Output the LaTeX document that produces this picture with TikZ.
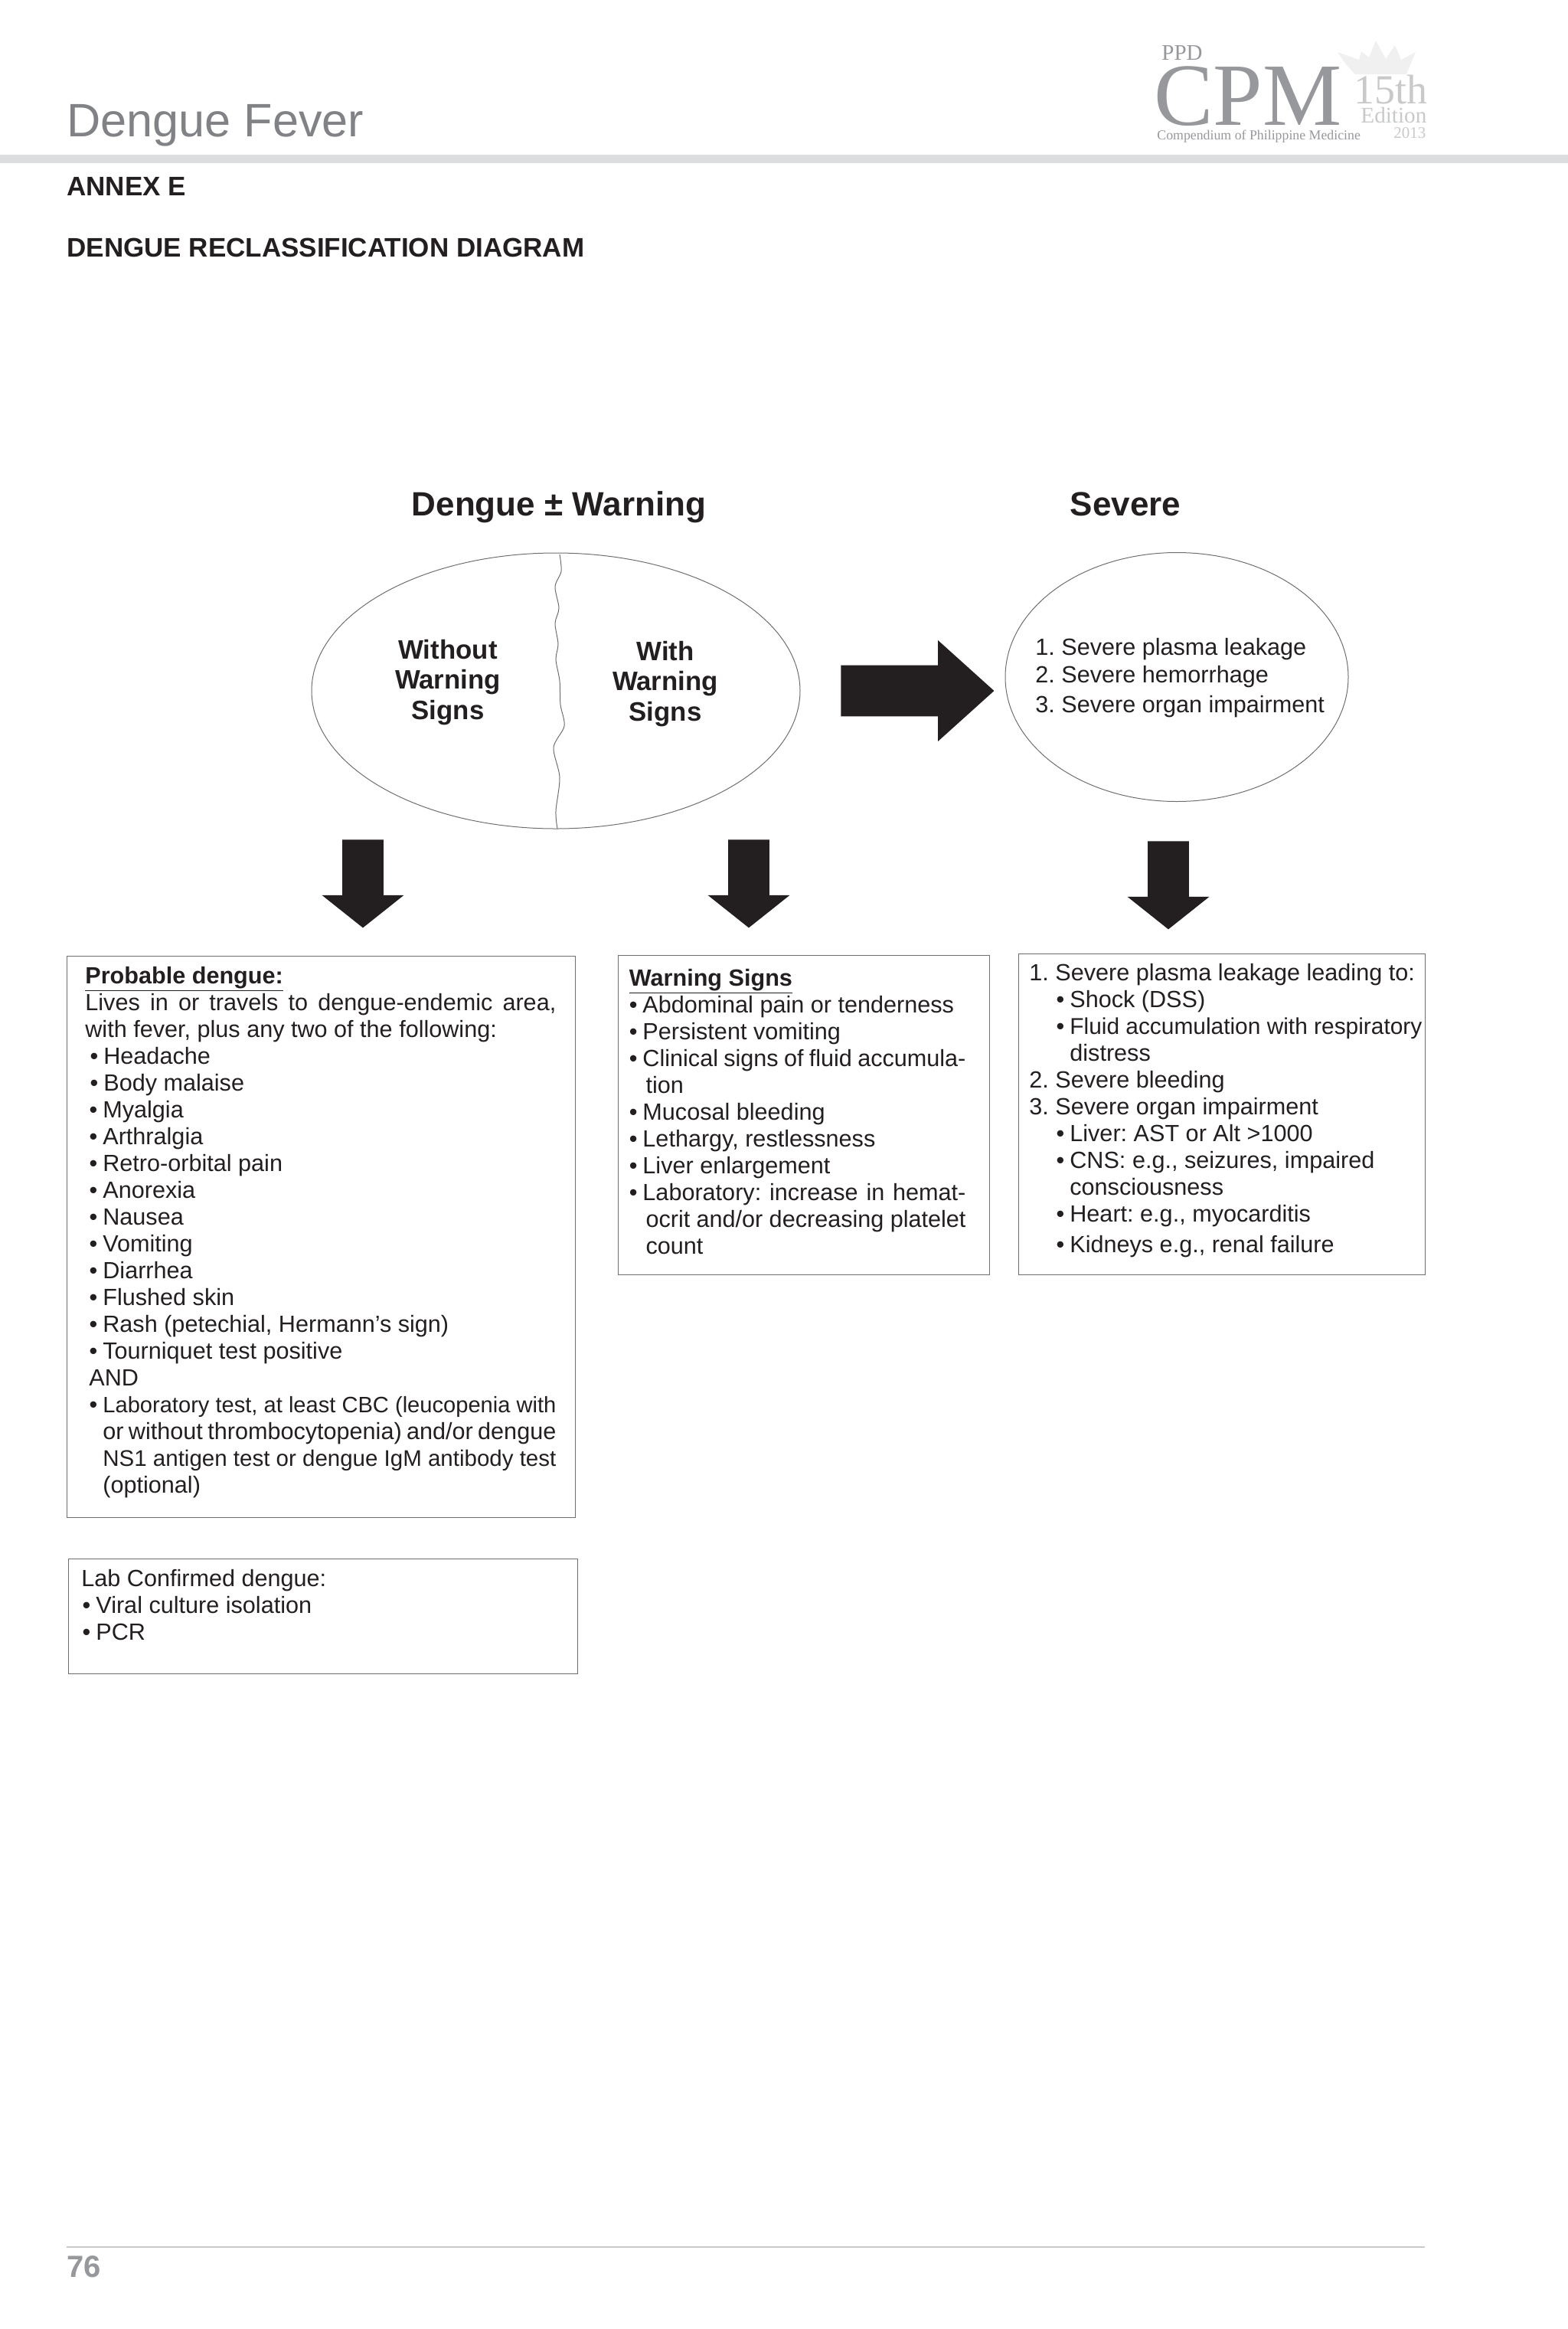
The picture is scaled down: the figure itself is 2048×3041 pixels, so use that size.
\documentclass[tikz,border=0pt]{standalone}
\usepackage{fontspec}
\setmainfont{Liberation Sans}
\newfontfamily\logofont{Liberation Serif}
\usetikzlibrary{shapes.geometric,shapes.arrows}
\definecolor{inkblack}{HTML}{231F20}
\definecolor{headgrey}{HTML}{808285}
\definecolor{bargrey}{HTML}{DCDDDE}
\definecolor{edgegrey}{HTML}{6D6E71}
\definecolor{logogrey}{HTML}{97989B}
\definecolor{logolight}{HTML}{C8C9CB}
\definecolor{crowngrey}{HTML}{F0F0F1}
\newcommand{\bul}[1]{\makebox[#1pt][r]{\textbullet\hspace{3.5pt}}}
\newcommand{\ind}[1]{\hspace*{#1pt}}
\newcommand{\fit}[2]{\makebox[#1pt][s]{#2}}
\newcommand{\fitr}[2]{\resizebox{#1pt}{!}{#2}}
\tikzset{
  lbl/.style={anchor=base west,inner sep=0pt,text=inkblack},
  head/.style={anchor=base,inner sep=0pt,text=inkblack,font=\fontsize{22}{26}\selectfont\bfseries},
  ovaltext/.style={anchor=north,inner sep=0pt,align=center,text=inkblack,font=\fontsize{17.4}{19.6}\selectfont\bfseries},
  bodytext/.style={anchor=north west,inner sep=0pt,align=left,text=inkblack,font=\fontsize{15.3}{17.5}\selectfont\frenchspacing},
  oval/.style={draw=edgegrey,line width=.5pt,ellipse,inner sep=0pt},
  infobox/.style={draw=edgegrey,line width=.6pt,anchor=north west,inner sep=0pt},
  downarrow/.style={single arrow,fill=inkblack,inner xsep=13.25pt,inner ysep=0pt,anchor=tail,shape border rotate=270,
    minimum height=57.5pt,minimum width=53pt,single arrow head extend=13.25pt,single arrow tip angle=103},
  logo/.style={anchor=base west,inner sep=0pt,text=logogrey}
}
\begin{document}
\begin{tikzpicture}[x=.5pt,y=-.5pt]
  \useasboundingbox (0,0) rectangle (2048,3041);
  \fill[crowngrey] (1747,68) -- (1775,78) -- (1778,67) -- (1788,75) -- (1797,53) -- (1810,77) -- (1822,59)
    -- (1830,78) -- (1849,68) -- (1837,97) -- (1770,97) -- (1757,83) -- cycle;
  \path (1517,78) node[logo,font=\logofont\fontsize{14.5}{15}\selectfont] (ppd) {PPD};
  \path (1507,163) node[logo,font=\logofont\fontsize{58}{58}\selectfont] (cpm) {CPM};
  \path (1768,135) node[logo,text=logolight,font=\logofont\fontsize{27}{28}\selectfont] (edn) {15th};
  \path (1777,160) node[logo,text=logolight,font=\logofont\fontsize{14.6}{15}\selectfont] (edt) {Edition};
  \path (1820,180) node[logo,text=logolight,font=\logofont\fontsize{10.5}{11}\selectfont] (yr) {2013};
  \path (1511,182) node[logo,font=\logofont\fontsize{8.9}{10}\selectfont] (cmp) {Compendium of Philippine Medicine};
  \path (87,178) node[lbl,text=headgrey,font=\fontsize{30.6}{34}\selectfont] (ttl) {Dengue Fever};
  \fill[bargrey] (0,202) rectangle (2048,213);
  \path (87,255) node[lbl,font=\fontsize{17.5}{20}\selectfont\bfseries] (anx) {ANNEX E};
  \path (87,335) node[lbl,font=\fontsize{17.5}{20}\selectfont\bfseries] (dia) {DENGUE RECLASSIFICATION DIAGRAM};
  \path (730,673) node[head] (hd1) {Dengue ± Warning};
  \path (1470,673) node[head] (hd2) {Severe};
  \path (726,902) node[oval,minimum width=319pt,minimum height=180pt] (ovl1) {};
  \path (1537,884) node[oval,minimum width=224pt,minimum height=162.5pt] (ovl2) {};
  \coordinate (wtop) at (731,724);
  \coordinate (wbot) at (728,1082);
  \draw[edgegrey,line width=.5pt] plot[smooth] coordinates {(wtop) (733,746) (725,766) (730,794) (725,814) (729,841)
    (726,861) (731,889) (732,920) (737,948) (723,976) (731,1015) (726,1059) (wbot)};
  \path (585,835) node[ovaltext] (ovl1a) {Without\\Warning\\Signs};
  \path (869,837) node[ovaltext] (ovl1b) {With\\Warning\\Signs};
  \path (1352,833) node[bodytext,font=\fontsize{15.3}{18.8}\selectfont\frenchspacing] (ovl2a) {1.\ Severe plasma leakage\\[-.6pt]2.\ Severe hemorrhage\\[.4pt]3.\ Severe organ impairment};
  \path (1098,902) node[downarrow,shape border rotate=0,inner xsep=0pt,inner ysep=16.5pt,minimum height=100pt,minimum width=65.5pt,
    single arrow head extend=16.25pt,single arrow tip angle=84] (arrR) {};
  \path (474,1096) node[downarrow] (arrA) {};
  \path (978,1096) node[downarrow] (arrB) {};
  \path (1526,1098) node[downarrow] (arrC) {};
  \path (87,1248) node[infobox,minimum width=332pt,minimum height=366.5pt] (boxA) {};
  \path (111,1262) node[bodytext] (txtA) {\textbf{\underline{Probable dengue:}}\\
    \fit{307.5}{Lives in or travels to dengue-endemic area,}\\
    with fever, plus any two of the following:\\
    \bul{12}Headache\\ \bul{12}Body malaise\\ \bul{11.5}Myalgia\\ \bul{11.5}Arthralgia\\
    \bul{11.5}Retro-orbital pain\\ \bul{11.5}Anorexia\\ \bul{11.5}Nausea\\ \bul{11.5}Vomiting\\
    \bul{11.5}Diarrhea\\ \bul{11.5}Flushed skin\\ \bul{11.5}Rash (petechial, Hermann’s sign)\\
    \bul{11.5}Tourniquet test positive\\ \ind{2.5}AND\\
    \bul{11.5}\fitr{296}{Laboratory test, at least CBC (leucopenia with}\\
    \ind{11.5}\fit{296}{or without thrombocytopenia) and/or dengue}\\
    \ind{11.5}\fitr{296}{NS1 antigen test or dengue IgM antibody test}\\
    \ind{11.5}(optional)};
  \path (88.5,2035) node[infobox,minimum width=332.5pt,minimum height=75pt] (boxD) {};
  \path (106,2049) node[bodytext] (txtD) {Lab Confirmed dengue:\\ \bul{9.5}Viral culture isolation\\ \bul{9.5}PCR};
  \path (807,1247) node[infobox,minimum width=242.5pt,minimum height=208.5pt] (boxW) {};
  \path (821.5,1265) node[bodytext] (txtW) {\textbf{\underline{Warning Signs}}\\
    \bul{8.8}Abdominal pain or tenderness\\ \bul{8.8}Persistent vomiting\\
    \bul{8.8}\fit{211}{Clinical signs of fluid accumula-}\\ \ind{10.8}tion\\
    \bul{8.8}Mucosal bleeding\\ \bul{8.8}Lethargy, restlessness\\ \bul{8.8}Liver enlargement\\
    \bul{8.8}\fit{211}{Laboratory: increase in hemat-}\\
    \ind{10.8}\fit{209}{ocrit and/or decreasing platelet}\\ \ind{10.8}count};
  \path (1329.5,1245) node[infobox,minimum width=265.5pt,minimum height=209.5pt] (boxS) {};
  \path (1344,1258) node[bodytext] (txtS) {1.\ Severe plasma leakage leading to:\\
    \bul{26.5}Shock (DSS)\\ \bul{26.5}\fitr{230}{Fluid accumulation with respiratory}\\ \ind{26.5}distress\\
    2.\ Severe bleeding\\ 3.\ Severe organ impairment\\
    \bul{26.5}Liver: AST or Alt >1000\\ \bul{26.5}CNS: e.g., seizures, impaired\\ \ind{26.5}consciousness\\
    \bul{26.5}Heart: e.g., myocarditis\\[2.5pt] \bul{26.5}Kidneys e.g., renal failure};
  \coordinate (ftl) at (87,2934);
  \coordinate (ftr) at (1861,2934);
  \draw[logolight,line width=.7pt] (ftl) -- (ftr);
  \path (87,2973) node[lbl,text=logogrey,font=\fontsize{20}{22}\selectfont\bfseries] (pgn) {76};
\end{tikzpicture}
\end{document}
